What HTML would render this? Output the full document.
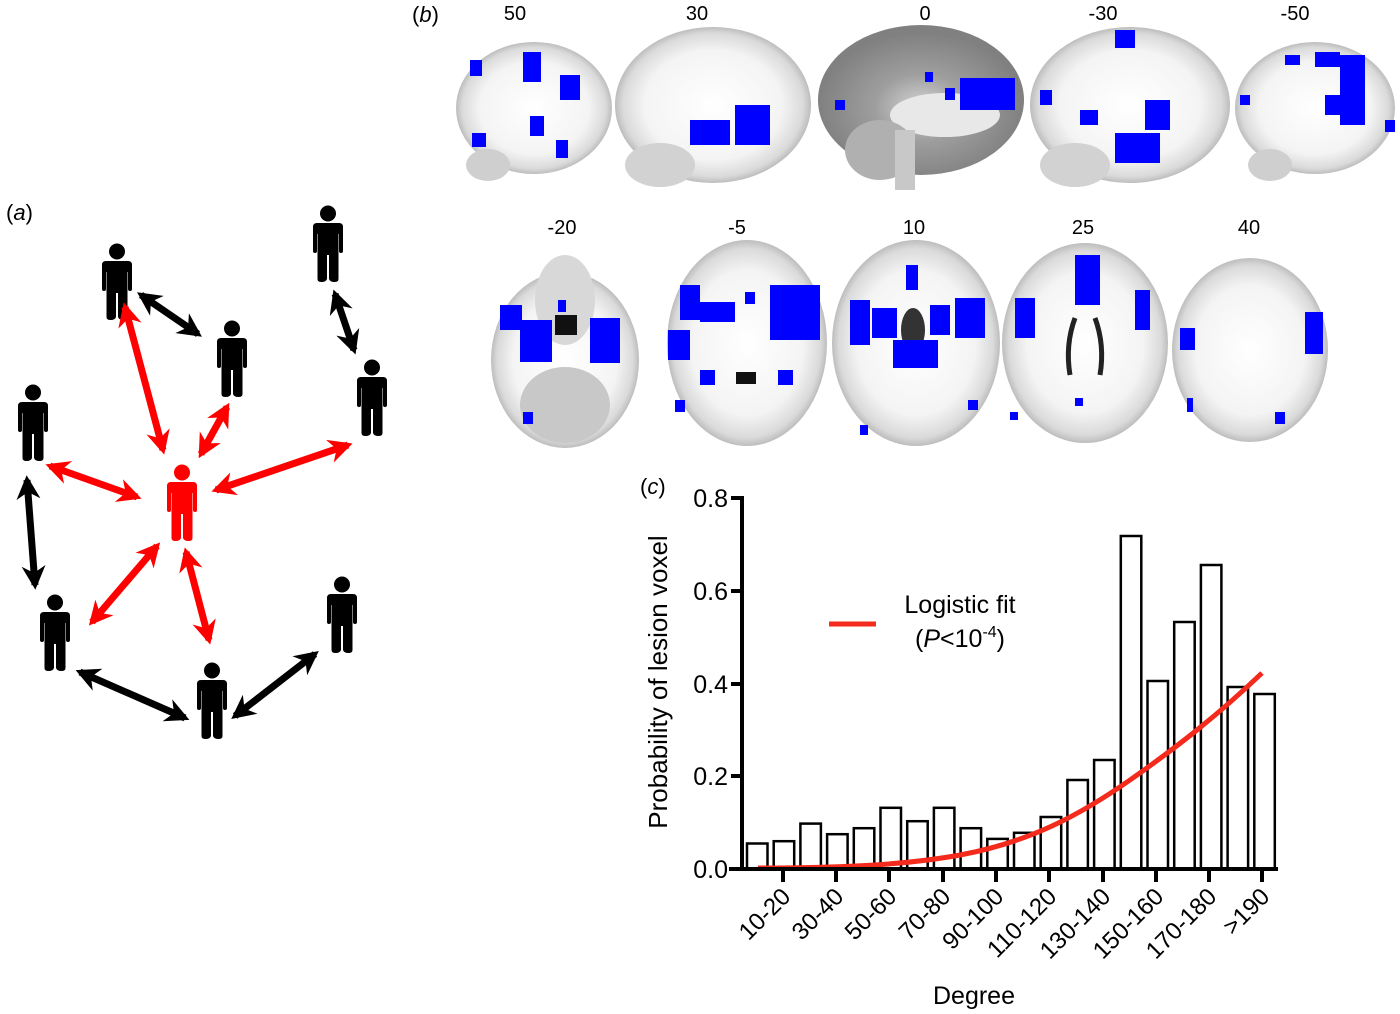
<!DOCTYPE html>
<html><head><meta charset="utf-8"><style>
html,body{margin:0;padding:0;background:#fff;}
svg{display:block;font-family:"Liberation Sans",Arial,sans-serif;}
</style></head><body>
<svg width="1400" height="1014" viewBox="0 0 1400 1014" xmlns="http://www.w3.org/2000/svg">
<defs>
<radialGradient id="br" cx="50%" cy="50%" r="50%">
<stop offset="0" stop-color="#fff"/><stop offset="0.7" stop-color="#f4f4f4"/><stop offset="0.92" stop-color="#dadada"/><stop offset="1" stop-color="#bdbdbd"/>
</radialGradient>
<radialGradient id="brd" cx="50%" cy="55%" r="50%">
<stop offset="0" stop-color="#d5d5d5"/><stop offset="0.45" stop-color="#9e9e9e"/><stop offset="1" stop-color="#808080"/>
</radialGradient>
<symbol id="p" viewBox="-16 0 32 78" overflow="visible">
<circle cx="0" cy="8.5" r="8"/>
<path d="M-11,18 H11 Q15,18 15,22 V46 Q15,48 13,48 Q11,48 11,46 V29 H10.5 V74 Q10.5,77 6.5,77 Q2,77 1,74 V50 H-1 V74 Q-2,77 -6.5,77 Q-10.5,77 -10.5,74 V29 H-11 V46 Q-11,48 -13,48 Q-15,48 -15,46 V22 Q-15,18 -11,18 Z"/>
</symbol>
<marker id="ak" viewBox="0 0 10 10" refX="8" refY="5" markerWidth="24" markerHeight="24" markerUnits="userSpaceOnUse" orient="auto-start-reverse"><path d="M0,0 L10,5 L0,10 L3,5 Z" fill="#000"/></marker>
<marker id="ar" viewBox="0 0 10 10" refX="8" refY="5" markerWidth="24" markerHeight="24" markerUnits="userSpaceOnUse" orient="auto-start-reverse"><path d="M0,0 L10,5 L0,10 L3,5 Z" fill="#f00"/></marker>
</defs>

<!-- Panel a -->
<text x="6" y="220" font-size="22"><tspan>(</tspan><tspan font-style="italic">a</tspan><tspan>)</tspan></text>
<g fill="#000">
<use href="#p" x="101" y="243" width="32" height="78"/>
<use href="#p" x="216" y="320" width="32" height="78"/>
<use href="#p" x="312" y="205" width="32" height="78"/>
<use href="#p" x="356" y="359" width="32" height="78"/>
<use href="#p" x="17" y="384" width="32" height="78"/>
<use href="#p" x="39" y="594" width="32" height="78"/>
<use href="#p" x="196" y="662" width="32" height="78"/>
<use href="#p" x="326" y="576" width="32" height="78"/>
</g>
<g fill="#f00"><use href="#p" x="166" y="464" width="32" height="78"/></g>
<g stroke="#000" stroke-width="7" marker-start="url(#ak)" marker-end="url(#ak)">
<line x1="141" y1="295" x2="198" y2="334"/>
<line x1="335" y1="294" x2="354" y2="350"/>
<line x1="27" y1="480" x2="35" y2="585"/>
<line x1="80" y1="672" x2="185" y2="718"/>
<line x1="235" y1="716" x2="315" y2="654"/>
</g>
<g stroke="#f00" stroke-width="7" marker-start="url(#ar)" marker-end="url(#ar)">
<line x1="125" y1="307" x2="163" y2="450"/>
<line x1="227" y1="407" x2="201" y2="454"/>
<line x1="348" y1="445" x2="216" y2="490"/>
<line x1="50" y1="466" x2="137" y2="497"/>
<line x1="157" y1="546" x2="92" y2="622"/>
<line x1="186" y1="552" x2="209" y2="640"/>
</g>

<!-- Panel b -->
<text x="412" y="22" font-size="22"><tspan>(</tspan><tspan font-style="italic">b</tspan><tspan>)</tspan></text>
<g font-size="20" text-anchor="middle">
<text x="515" y="20">50</text><text x="697" y="20">30</text><text x="925" y="20">0</text><text x="1103" y="20">-30</text><text x="1295" y="20">-50</text>
<text x="562" y="234">-20</text><text x="737" y="234">-5</text><text x="914" y="234">10</text><text x="1083" y="234">25</text><text x="1249" y="234">40</text>
</g>
<ellipse cx="534" cy="108" rx="78" ry="66" fill="url(#br)"/>
<ellipse cx="488" cy="165" rx="22" ry="16" fill="#cfcfcf"/>
<ellipse cx="713" cy="105" rx="98" ry="78" fill="url(#br)"/>
<ellipse cx="660" cy="165" rx="35" ry="22" fill="#d2d2d2"/>
<ellipse cx="921" cy="100" rx="103" ry="75" fill="url(#brd)"/>
<ellipse cx="945" cy="115" rx="55" ry="22" fill="#e8e8e8"/>
<ellipse cx="880" cy="150" rx="35" ry="30" fill="#b0b0b0"/>
<rect x="895" y="130" width="20" height="60" fill="#c8c8c8"/>
<ellipse cx="1130" cy="105" rx="100" ry="78" fill="url(#br)"/>
<ellipse cx="1075" cy="165" rx="35" ry="22" fill="#d2d2d2"/>
<ellipse cx="1315" cy="108" rx="80" ry="66" fill="url(#br)"/>
<ellipse cx="1270" cy="165" rx="22" ry="16" fill="#cfcfcf"/>
<ellipse cx="565" cy="360" rx="74" ry="88" fill="url(#br)"/>
<ellipse cx="565" cy="300" rx="30" ry="45" fill="#d8d8d8"/>
<ellipse cx="565" cy="405" rx="45" ry="38" fill="#c8c8c8"/>
<rect x="555" y="315" width="22" height="20" fill="#111"/>
<ellipse cx="747" cy="343" rx="80" ry="103" fill="url(#br)"/>
<rect x="736" y="372" width="20" height="12" fill="#111"/>
<ellipse cx="916" cy="343" rx="84" ry="103" fill="url(#br)"/>
<ellipse cx="913" cy="330" rx="12" ry="22" fill="#333"/>
<ellipse cx="1085" cy="343" rx="83" ry="100" fill="url(#br)"/>
<path d="M1075,318 Q1065,345 1070,375 M1095,318 Q1105,345 1100,375" stroke="#222" stroke-width="5" fill="none"/>
<ellipse cx="1250" cy="350" rx="78" ry="92" fill="url(#br)"/>
<g fill="#0000ff">
<rect x="470" y="60" width="12" height="16"/><rect x="523" y="52" width="18" height="30"/><rect x="560" y="75" width="20" height="25"/><rect x="530" y="116" width="14" height="20"/><rect x="472" y="133" width="14" height="14"/><rect x="556" y="140" width="12" height="18"/>
<rect x="690" y="120" width="40" height="25"/><rect x="735" y="105" width="35" height="40"/>
<rect x="960" y="78" width="55" height="32"/><rect x="835" y="100" width="10" height="10"/><rect x="925" y="72" width="8" height="10"/><rect x="945" y="88" width="10" height="12"/>
<rect x="1115" y="30" width="20" height="18"/><rect x="1040" y="90" width="12" height="15"/><rect x="1145" y="100" width="25" height="30"/><rect x="1115" y="133" width="45" height="30"/><rect x="1080" y="110" width="18" height="15"/>
<rect x="1315" y="52" width="25" height="15"/><rect x="1340" y="55" width="25" height="70"/><rect x="1325" y="95" width="40" height="20"/><rect x="1285" y="55" width="15" height="10"/><rect x="1240" y="95" width="10" height="10"/><rect x="1385" y="120" width="10" height="12"/>
<rect x="500" y="305" width="22" height="25"/><rect x="520" y="320" width="32" height="42"/><rect x="590" y="318" width="30" height="45"/><rect x="558" y="300" width="8" height="12"/><rect x="523" y="412" width="10" height="12"/>
<rect x="680" y="285" width="20" height="35"/><rect x="700" y="302" width="35" height="20"/><rect x="770" y="285" width="50" height="55"/><rect x="668" y="330" width="22" height="30"/><rect x="700" y="370" width="15" height="15"/><rect x="778" y="370" width="15" height="15"/><rect x="675" y="400" width="10" height="12"/><rect x="745" y="292" width="10" height="12"/>
<rect x="850" y="300" width="20" height="45"/><rect x="872" y="308" width="25" height="30"/><rect x="930" y="305" width="20" height="30"/><rect x="955" y="298" width="30" height="40"/><rect x="893" y="340" width="45" height="28"/><rect x="906" y="265" width="12" height="25"/><rect x="860" y="425" width="8" height="10"/><rect x="968" y="400" width="10" height="10"/>
<rect x="1015" y="298" width="20" height="40"/><rect x="1075" y="255" width="25" height="50"/><rect x="1135" y="290" width="15" height="40"/><rect x="1075" y="398" width="8" height="8"/><rect x="1010" y="412" width="8" height="8"/>
<rect x="1180" y="328" width="15" height="22"/><rect x="1305" y="312" width="18" height="42"/><rect x="1275" y="412" width="10" height="12"/><rect x="1187" y="398" width="6" height="14"/>
</g>

<!-- Panel c -->
<text x="640" y="494" font-size="22"><tspan>(</tspan><tspan font-style="italic">c</tspan><tspan>)</tspan></text>
<g fill="#fff" stroke="#000" stroke-width="2.5">
<rect x="747" y="843.5" width="20.5" height="25.5"/>
<rect x="773.7" y="841.2" width="20.5" height="27.8"/>
<rect x="800.4" y="823.6" width="20.5" height="45.4"/>
<rect x="827.1" y="834.2" width="20.5" height="34.8"/>
<rect x="853.8" y="828.2" width="20.5" height="40.8"/>
<rect x="880.5" y="807.8" width="20.5" height="61.2"/>
<rect x="907.2" y="821.2" width="20.5" height="47.8"/>
<rect x="933.9" y="807.8" width="20.5" height="61.2"/>
<rect x="960.6" y="828.2" width="20.5" height="40.8"/>
<rect x="987.3" y="838.9" width="20.5" height="30.1"/>
<rect x="1014" y="832.8" width="20.5" height="36.2"/>
<rect x="1040.7" y="817" width="20.5" height="52"/>
<rect x="1067.4" y="780" width="20.5" height="89"/>
<rect x="1094.1" y="760" width="20.5" height="109"/>
<rect x="1120.8" y="536" width="20.5" height="333"/>
<rect x="1147.5" y="681" width="20.5" height="188"/>
<rect x="1174.2" y="622" width="20.5" height="247"/>
<rect x="1200.9" y="565" width="20.5" height="304"/>
<rect x="1227.6" y="687" width="20.5" height="182"/>
<rect x="1254.3" y="694" width="20.5" height="175"/>
</g>
<path d="M758,868 C830,868 900,866 960,855 C1030,842 1080,815 1130,780 C1180,745 1220,713 1262,673" stroke="#f42a1c" stroke-width="5" fill="none"/>
<g stroke="#000" stroke-width="4">
<line x1="742" y1="496" x2="742" y2="871"/>
<line x1="729" y1="869" x2="1278" y2="869"/>
<line x1="731" y1="498" x2="742" y2="498"/><line x1="731" y1="591" x2="742" y2="591"/><line x1="731" y1="684" x2="742" y2="684"/><line x1="731" y1="776" x2="742" y2="776"/>
<line x1="783" y1="869" x2="783" y2="882"/><line x1="836" y1="869" x2="836" y2="882"/><line x1="889" y1="869" x2="889" y2="882"/><line x1="943" y1="869" x2="943" y2="882"/><line x1="996" y1="869" x2="996" y2="882"/><line x1="1049" y1="869" x2="1049" y2="882"/><line x1="1103" y1="869" x2="1103" y2="882"/><line x1="1156" y1="869" x2="1156" y2="882"/><line x1="1209" y1="869" x2="1209" y2="882"/><line x1="1262" y1="869" x2="1262" y2="882"/>
</g>
<g font-size="25" text-anchor="end">
<text x="728" y="507">0.8</text><text x="728" y="600">0.6</text><text x="728" y="693">0.4</text><text x="728" y="785">0.2</text><text x="728" y="878">0.0</text>
</g>
<g font-size="24" text-anchor="end">
<text transform="translate(792,898) rotate(-45)">10-20</text>
<text transform="translate(845,898) rotate(-45)">30-40</text>
<text transform="translate(898,898) rotate(-45)">50-60</text>
<text transform="translate(952,898) rotate(-45)">70-80</text>
<text transform="translate(1005,898) rotate(-45)">90-100</text>
<text transform="translate(1058,898) rotate(-45)">110-120</text>
<text transform="translate(1112,898) rotate(-45)">130-140</text>
<text transform="translate(1165,898) rotate(-45)">150-160</text>
<text transform="translate(1218,898) rotate(-45)">170-180</text>
<text transform="translate(1271,898) rotate(-45)">&gt;190</text>
</g>
<text x="974" y="1004" font-size="25" text-anchor="middle">Degree</text>
<text transform="translate(667,682) rotate(-90)" font-size="26" text-anchor="middle">Probability of lesion voxel</text>
<line x1="829" y1="624" x2="876" y2="624" stroke="#f42a1c" stroke-width="5"/>
<text x="960" y="613" font-size="25" text-anchor="middle">Logistic fit</text>
<text x="960" y="647" font-size="25" text-anchor="middle">(<tspan font-style="italic">P</tspan>&lt;10<tspan font-size="16" dy="-10">-4</tspan><tspan dy="10">)</tspan></text>
</svg>
</body></html>
